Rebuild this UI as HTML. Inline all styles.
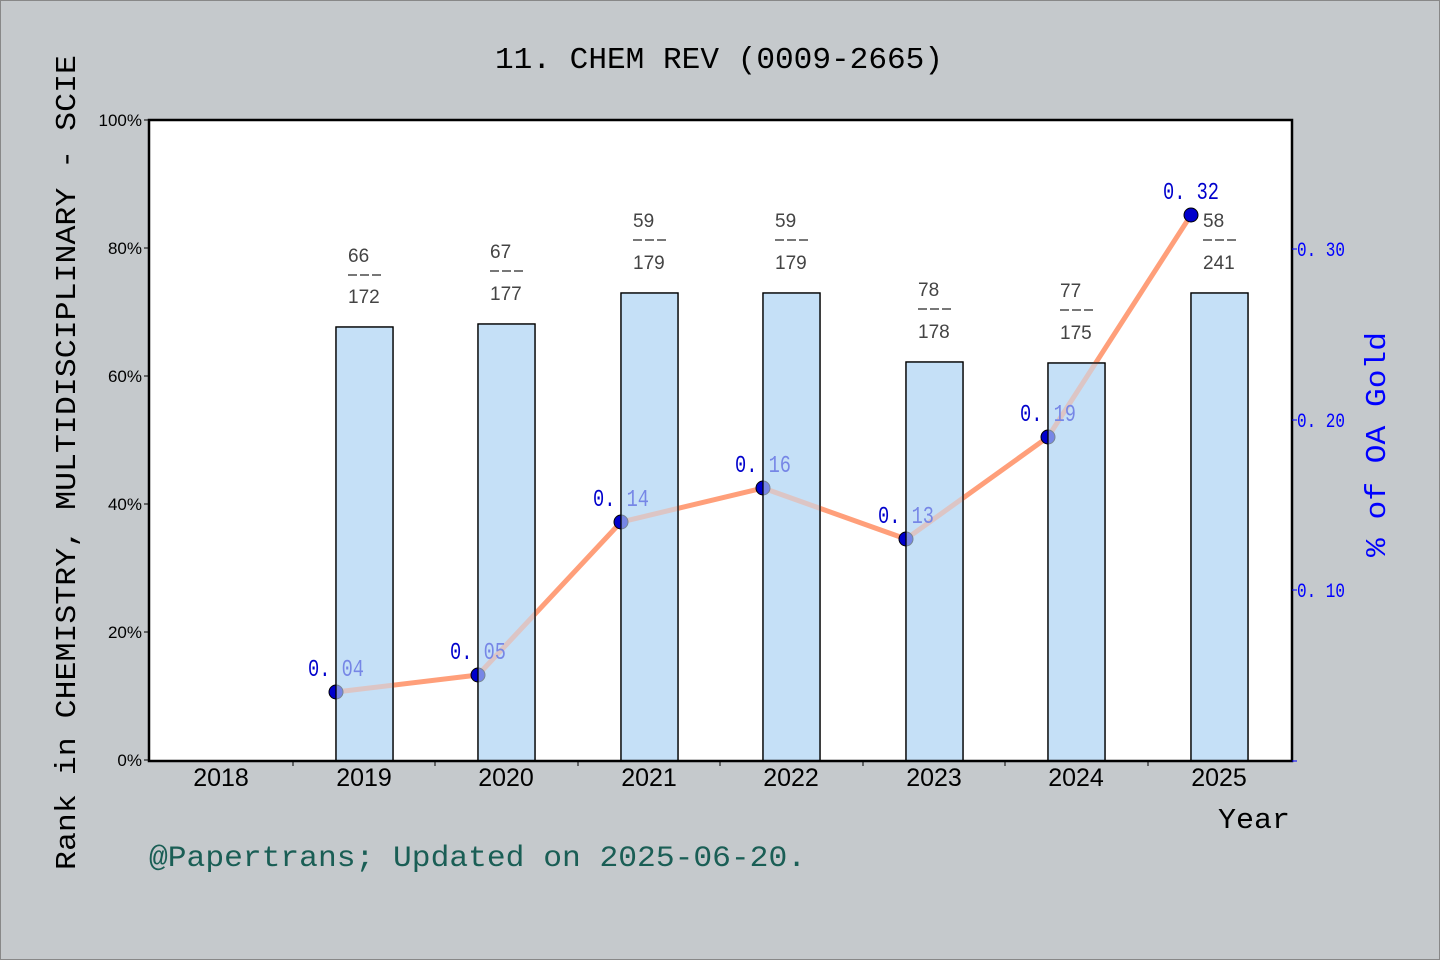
<!DOCTYPE html>
<html><head><meta charset="utf-8"><style>
html,body{margin:0;padding:0;background:#c5c9cc;}
svg{display:block;}
text{font-family:"Liberation Sans","WenQuanYi Zen Hei",sans-serif;}
.m{font-family:"Liberation Mono","WenQuanYi Zen Hei",monospace;}
</style></head><body>
<svg width="1440" height="960" viewBox="0 0 1440 960" xmlns="http://www.w3.org/2000/svg">
<rect x="0.5" y="0.5" width="1439" height="959" fill="#c5c9cc" stroke="#888"/>
<text x="495" y="68" class="m" font-size="31" fill="#000" textLength="448" lengthAdjust="spacingAndGlyphs">11. CHEM REV (0009-2665)</text>
<rect x="149" y="120" width="1143" height="641" fill="#fff"/>
<g fill="#c5e0f7" stroke="#000" stroke-width="1.3">
<rect x="336" y="327" width="57" height="434"/>
<rect x="478" y="324" width="57" height="437"/>
<rect x="621" y="293" width="57" height="468"/>
<rect x="763" y="293" width="57" height="468"/>
<rect x="906" y="362" width="57" height="399"/>
<rect x="1048" y="363" width="57" height="398"/>
<rect x="1191" y="293" width="57" height="468"/>
</g>
<polyline points="336,692 478,675 621,522 763,488 906,539 1048,437 1191,215" fill="none" stroke="#ff9f7a" stroke-width="5" stroke-linejoin="round"/>
<g fill="#0000cc" stroke="#000" stroke-width="1">
<circle cx="336" cy="692" r="7"/><circle cx="478" cy="675" r="7"/><circle cx="621" cy="522" r="7"/><circle cx="763" cy="488" r="7"/><circle cx="906" cy="539" r="7"/><circle cx="1048" cy="437" r="7"/><circle cx="1191" cy="215" r="7"/>
</g>
<g font-size="24" fill="#0000cc">
<text x="308" y="676" class="m" textLength="56" lengthAdjust="spacingAndGlyphs">0. 04</text>
<text x="450" y="659" class="m" textLength="56" lengthAdjust="spacingAndGlyphs">0. 05</text>
<text x="593" y="506" class="m" textLength="56" lengthAdjust="spacingAndGlyphs">0. 14</text>
<text x="735" y="472" class="m" textLength="56" lengthAdjust="spacingAndGlyphs">0. 16</text>
<text x="878" y="523" class="m" textLength="56" lengthAdjust="spacingAndGlyphs">0. 13</text>
<text x="1020" y="421" class="m" textLength="56" lengthAdjust="spacingAndGlyphs">0. 19</text>
<text x="1163" y="199" class="m" textLength="56" lengthAdjust="spacingAndGlyphs">0. 32</text>
</g>
<g fill="#c5e0f7" fill-opacity="0.6" stroke="#000" stroke-width="1.3">
<rect x="336" y="327" width="57" height="434"/>
<rect x="478" y="324" width="57" height="437"/>
<rect x="621" y="293" width="57" height="468"/>
<rect x="763" y="293" width="57" height="468"/>
<rect x="906" y="362" width="57" height="399"/>
<rect x="1048" y="363" width="57" height="398"/>
<rect x="1191" y="293" width="57" height="468"/>
</g>
<g font-size="19" fill="#444">
<text x="348" y="262">66</text><text x="348" y="303">172</text>
<text x="490" y="258">67</text><text x="490" y="300">177</text>
<text x="633" y="227">59</text><text x="633" y="269">179</text>
<text x="775" y="227">59</text><text x="775" y="269">179</text>
<text x="918" y="296">78</text><text x="918" y="338">178</text>
<text x="1060" y="297">77</text><text x="1060" y="339">175</text>
<text x="1203" y="227">58</text><text x="1203" y="269">241</text>
</g>
<g stroke="#777" stroke-width="2" stroke-dasharray="9,3">
<line x1="348" y1="275" x2="381" y2="275"/>
<line x1="490" y1="271" x2="523" y2="271"/>
<line x1="633" y1="240" x2="666" y2="240"/>
<line x1="775" y1="240" x2="808" y2="240"/>
<line x1="918" y1="309" x2="951" y2="309"/>
<line x1="1060" y1="310" x2="1093" y2="310"/>
<line x1="1203" y1="240" x2="1236" y2="240"/>
</g>
<rect x="149" y="120" width="1143" height="641" fill="none" stroke="#000" stroke-width="2.5"/>
<g stroke="#000" stroke-width="1">
<line x1="144" y1="120" x2="149" y2="120"/><line x1="144" y1="248" x2="149" y2="248"/><line x1="144" y1="376" x2="149" y2="376"/><line x1="144" y1="504" x2="149" y2="504"/><line x1="144" y1="632" x2="149" y2="632"/><line x1="144" y1="760" x2="149" y2="760"/>
<line x1="293" y1="761" x2="293" y2="766"/><line x1="435" y1="761" x2="435" y2="766"/><line x1="578" y1="761" x2="578" y2="766"/><line x1="720" y1="761" x2="720" y2="766"/><line x1="863" y1="761" x2="863" y2="766"/><line x1="1005" y1="761" x2="1005" y2="766"/><line x1="1148" y1="761" x2="1148" y2="766"/>
</g>
<g stroke="#0000ff" stroke-width="1">
<line x1="1292" y1="249" x2="1297" y2="249"/><line x1="1292" y1="420" x2="1297" y2="420"/><line x1="1292" y1="590" x2="1297" y2="590"/><line x1="1292" y1="761" x2="1297" y2="761"/>
</g>
<g font-size="17" fill="#000" text-anchor="end">
<text x="142" y="126">100%</text><text x="142" y="254">80%</text><text x="142" y="382">60%</text><text x="142" y="510">40%</text><text x="142" y="638">20%</text><text x="142" y="766">0%</text>
</g>
<g font-size="20" fill="#0000ff">
<text x="1297" y="256" class="m" textLength="48" lengthAdjust="spacingAndGlyphs">0. 30</text>
<text x="1297" y="427" class="m" textLength="48" lengthAdjust="spacingAndGlyphs">0. 20</text>
<text x="1297" y="597" class="m" textLength="48" lengthAdjust="spacingAndGlyphs">0. 10</text>
</g>
<g font-size="25" fill="#000" text-anchor="middle">
<text x="221" y="786">2018</text><text x="364" y="786">2019</text><text x="506" y="786">2020</text><text x="649" y="786">2021</text><text x="791" y="786">2022</text><text x="934" y="786">2023</text><text x="1076" y="786">2024</text><text x="1219" y="786">2025</text>
</g>
<text x="1218" y="828" class="m" font-size="29" fill="#000" textLength="72" lengthAdjust="spacingAndGlyphs">Year</text>
<text transform="translate(75,870) rotate(-90)" class="m" font-size="29" fill="#000" textLength="815" lengthAdjust="spacingAndGlyphs">Rank in CHEMISTRY, MULTIDISCIPLINARY - SCIE</text>
<text transform="translate(1385,557) rotate(-90)" class="m" font-size="29" fill="#0000ff" textLength="225" lengthAdjust="spacingAndGlyphs">% of OA Gold</text>
<text x="149" y="866" class="m" font-size="30" fill="#1a5e55" textLength="657" lengthAdjust="spacingAndGlyphs">@Papertrans; Updated on 2025-06-20.</text>
</svg>
</body></html>
